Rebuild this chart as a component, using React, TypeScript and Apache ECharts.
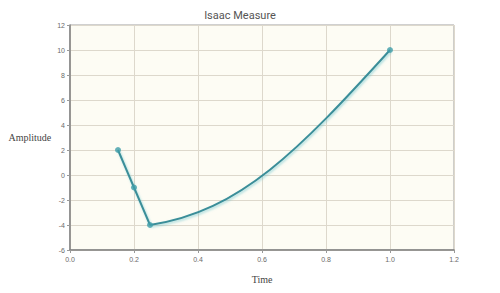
import React, { useEffect, useRef } from "react";
import * as echarts from "echarts";

const timeValues = [0.15, 0.2, 0.25, 1.0];
const amplitudeValues = [2, -1, -4, 10];
const xTicks = [0, 0.2, 0.4, 0.6, 0.8, 1.0, 1.2];
const yTicks = [-6, -4, -2, 0, 2, 4, 6, 8, 10, 12];

const LINE_COLOR = "#3b8e99";
const SHADOW = "rgba(90,190,200,0.55)";

export default function App() {
  const ref = useRef<HTMLDivElement>(null);
  useEffect(() => {
    if (!ref.current) return;
    const chart = echarts.init(ref.current, null, { renderer: "svg" });
    const pts = timeValues.map((t, i) => [t, amplitudeValues[i]]);
    const lineStyle = {
      color: LINE_COLOR,
      width: 2,
      shadowColor: SHADOW,
      shadowBlur: 2,
      shadowOffsetX: 1,
      shadowOffsetY: 1.5,
    };
    chart.setOption({
      animation: false,
      backgroundColor: "#ffffff",
      title: {
        text: "Isaac Measure",
        left: 235,
        textAlign: "center",
        top: 5,
        textStyle: {
          fontFamily: "Roboto",
          fontSize: 11,
          fontWeight: "normal",
          color: "#555",
        },
      },
      grid: {
        left: 70,
        right: 46,
        top: 25,
        bottom: 43,
        outerBoundsMode: "none",
        containLabel: false,
        show: true,
        backgroundColor: "#fdfcf4",
        borderColor: "#a0a0a0",
        borderWidth: 1,
      },
      xAxis: {
        type: "value",
        min: xTicks[0],
        max: xTicks[xTicks.length - 1],
        interval: 0.2,
        name: "Time",
        nameLocation: "middle",
        nameGap: 24,
        nameTextStyle: { fontFamily: "Liberation Serif", fontSize: 10, color: "#444" },
        axisLine: { show: true, onZero: false, lineStyle: { color: "#808080", width: 1.5 } },
        axisTick: { show: true, length: 3, lineStyle: { color: "#999" } },
        axisLabel: {
          fontSize: 7,
          color: "#6a6a6a",
          margin: 6,
          formatter: (v: number) => v.toFixed(1),
        },
        splitLine: { show: true, lineStyle: { color: "#ddd8cc" } },
      },
      yAxis: {
        type: "value",
        min: yTicks[0],
        max: yTicks[yTicks.length - 1],
        interval: 2,
        name: "Amplitude",
        nameLocation: "middle",
        nameRotate: 0,
        nameGap: 16,
        nameTextStyle: { fontFamily: "Liberation Serif", fontSize: 10, color: "#444", align: "right" },
        axisLine: { show: true, onZero: false, lineStyle: { color: "#808080", width: 1.5 } },
        axisTick: { show: true, length: 3, lineStyle: { color: "#999" } },
        axisLabel: { fontSize: 7, color: "#6a6a6a", margin: 5 },
        splitLine: { show: true, lineStyle: { color: "#ddd8cc" } },
      },
      series: [
        {
          type: "line",
          data: pts.slice(0, 3),
          smooth: 0.2,
          showSymbol: false,
          lineStyle,
          z: 2,
        },
        {
          type: "custom",
          data: pts.slice(2, 4),
          z: 2,
          renderItem: (params: any, api: any) => {
            if (params.dataIndex !== 0) return null;
            const a = api.coord([api.value(0, 0), api.value(1, 0)]);
            const b = api.coord([api.value(0, 1), api.value(1, 1)]);
            const d = (b[0] - a[0]) * 0.377;
            return {
              type: "bezierCurve",
              shape: {
                x1: a[0],
                y1: a[1],
                cpx1: a[0] + d,
                cpy1: a[1] - d * 0.15,
                cpx2: b[0] - d,
                cpy2: b[1] + d * 1.1,
                x2: b[0],
                y2: b[1],
              },
              style: {
                stroke: LINE_COLOR,
                lineWidth: 2,
                fill: null,
                shadowColor: SHADOW,
                shadowBlur: 2,
                shadowOffsetX: 1,
                shadowOffsetY: 1.5,
              },
            };
          },
        },
        {
          type: "scatter",
          data: pts,
          symbol: "circle",
          symbolSize: 6,
          itemStyle: { color: "#3f9ea9" },
          z: 3,
        },
      ],
    });
    return () => chart.dispose();
  }, []);
  return <div ref={ref} style={{ width: 500, height: 293, position: "absolute", left: 0, top: 0 }} />;
}
